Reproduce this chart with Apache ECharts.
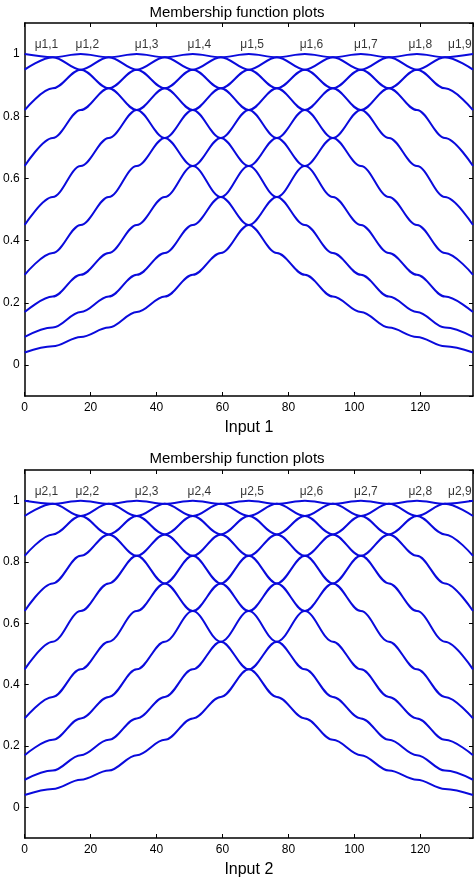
<!DOCTYPE html>
<html>
<head>
<meta charset="utf-8">
<script src="https://cdn.jsdelivr.net/npm/echarts@6/dist/echarts.min.js"></script>
<style>html,body{margin:0;padding:0;background:#fff}#chart{width:474px;height:879px}</style>
</head>
<body>
<div id="chart"></div>
<script>
// x samples (spacing 8.5) and membership values
var xs = [0, 8.5, 17, 25.5, 34, 42.5, 51, 59.5, 68, 76.5, 85, 93.5, 102, 110.5, 119, 127.5, 136];
var mf1 = [1, 0.99, 0.95, 0.89, 0.82, 0.73, 0.64, 0.54, 0.45, 0.36, 0.29, 0.22, 0.17, 0.12, 0.09, 0.06, 0.04];
var mf2 = [0.95, 0.99, 1, 0.99, 0.95, 0.89, 0.82, 0.73, 0.64, 0.54, 0.45, 0.36, 0.29, 0.22, 0.17, 0.12, 0.09];
var mf3 = [0.82, 0.89, 0.95, 0.99, 1, 0.99, 0.95, 0.89, 0.82, 0.73, 0.64, 0.54, 0.45, 0.36, 0.29, 0.22, 0.17];
var mf4 = [0.64, 0.73, 0.82, 0.89, 0.95, 0.99, 1, 0.99, 0.95, 0.89, 0.82, 0.73, 0.64, 0.54, 0.45, 0.36, 0.29];
var mf5 = [0.45, 0.54, 0.64, 0.73, 0.82, 0.89, 0.95, 0.99, 1, 0.99, 0.95, 0.89, 0.82, 0.73, 0.64, 0.54, 0.45];
var mf6 = [0.29, 0.36, 0.45, 0.54, 0.64, 0.73, 0.82, 0.89, 0.95, 0.99, 1, 0.99, 0.95, 0.89, 0.82, 0.73, 0.64];
var mf7 = [0.17, 0.22, 0.29, 0.36, 0.45, 0.54, 0.64, 0.73, 0.82, 0.89, 0.95, 0.99, 1, 0.99, 0.95, 0.89, 0.82];
var mf8 = [0.09, 0.12, 0.17, 0.22, 0.29, 0.36, 0.45, 0.54, 0.64, 0.73, 0.82, 0.89, 0.95, 0.99, 1, 0.99, 0.95];
var mf9 = [0.04, 0.06, 0.09, 0.12, 0.17, 0.22, 0.29, 0.36, 0.45, 0.54, 0.64, 0.73, 0.82, 0.89, 0.95, 0.99, 1];
var curves = [mf1, mf2, mf3, mf4, mf5, mf6, mf7, mf8, mf9];
// label anchor x positions (data units) along the top
var labelX = [6.6, 19, 37, 53, 69, 87, 103.5, 120, 132];
var labelY = 1.03;

var dom = document.getElementById("chart");
var myChart = echarts.init(dom);
var font = "Liberation Sans";

function axesFor(gi, name) {
    var ax = {
        gridIndex: gi, type: "value", min: 0, max: 136, interval: 20,
        axisLine: { onZero: false, lineStyle: { color: "#000", width: 1.5 } },
        axisTick: { inside: true, length: 4, lineStyle: { color: "#000" } },
        splitLine: { show: false }
    };
    var bottom = Object.assign({}, ax, {
        position: "bottom", name: name, nameLocation: "middle", nameGap: 24,
        nameTextStyle: { fontSize: 16, fontFamily: font, color: "#000" },
        axisLabel: { fontSize: 12, fontFamily: font, color: "#000", margin: 6, showMaxLabel: false }
    });
    var top = Object.assign({}, ax, { position: "top", axisLabel: { show: false } });
    return [bottom, top];
}
function yAxesFor(gi) {
    var ay = {
        gridIndex: gi, type: "value", min: -0.1, max: 1.1, splitNumber: 6,
        axisLine: { onZero: false, lineStyle: { color: "#000", width: 1.5 } },
        axisTick: { inside: true, length: 4, lineStyle: { color: "#000" } },
        splitLine: { show: false }
    };
    var left = Object.assign({}, ay, {
        position: "left",
        axisLabel: { fontSize: 12, fontFamily: font, color: "#000", margin: 5, showMaxLabel: false, showMinLabel: false,
            formatter: function (v) { return v < -0.01 ? "" : +v.toFixed(1) + ""; } }
    });
    var right = Object.assign({}, ay, { position: "right", axisLabel: { show: false } });
    return [left, right];
}

var xAxis = axesFor(0, "Input 1").concat(axesFor(1, "Input 2"));
var yAxis = yAxesFor(0).concat(yAxesFor(1));

var series = [];
[0, 1].forEach(function (g) {
    curves.forEach(function (c, i) {
        series.push({
            type: "line", xAxisIndex: g * 2, yAxisIndex: g * 2, smooth: 0.35, smoothMonotone: "x", symbol: "none",
            lineStyle: { color: "#0a0adc", width: 2 },
            data: xs.map(function (x, j) { return [x, c[j]]; }),
            silent: true
        });
    });
    // curve name labels along the top
    series.push({
        type: "scatter", xAxisIndex: g * 2, yAxisIndex: g * 2, symbolSize: 0, silent: true,
        label: { show: true, position: "inside", color: "#000", fontSize: 12, fontFamily: font, formatter: "{b}" },
        data: labelX.map(function (x, i) { return { name: "\u03bc" + (g + 1) + "," + (i + 1), value: [x, labelY] }; })
    });
});

var option = {
    backgroundColor: "#fff",
    animation: false,
    title: [
        { text: "Membership function plots", left: "center", top: 0, textStyle: { fontSize: 15, fontWeight: "normal", fontFamily: font, color: "#000" } },
        { text: "Membership function plots", left: "center", top: 446, textStyle: { fontSize: 15, fontWeight: "normal", fontFamily: font, color: "#000" } }
    ],
    grid: [
        { left: 20, right: 1, top: 23, height: 373 },
        { left: 20, right: 1, top: 470, height: 373 }
    ],
    xAxis: xAxis,
    yAxis: yAxis,
    series: series
};
myChart.setOption(option, true);
</script>
</body>
</html>
